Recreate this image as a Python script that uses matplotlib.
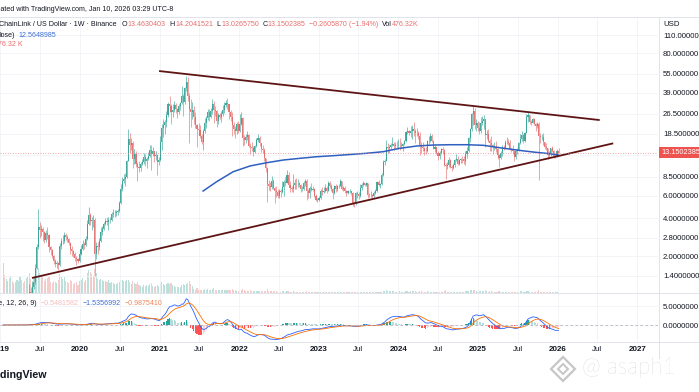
import numpy as np
import pandas as pd
import matplotlib
matplotlib.use('Agg')
import matplotlib.pyplot as plt
import matplotlib.dates as mdates
from matplotlib.transforms import Affine2D
from matplotlib.lines import Line2D
from matplotlib.patches import Rectangle, Polygon
from matplotlib.ticker import NullLocator

plt.rcParams['font.family'] = ['Liberation Sans', 'DejaVu Sans']

# LINK/USD weekly candles (Binance), one block per calendar year
first_week = '2019-01-14'
first_open = 0.42

close_2019 = [0.47, 0.44, 0.45,
              0.46, 0.45, 0.49, 0.46,
              0.46, 0.47, 0.48, 0.50,
              0.52, 0.50, 0.48, 0.46, 0.62,
              0.72, 1.05, 1.02, 1.15,
              1.25, 1.62, 2.35, 3.40,
              3.20, 3.30, 3.10, 2.70, 3.05,
              2.95, 2.35, 2.25, 2.00,
              1.85, 1.75, 1.78, 1.70, 2.40,
              2.65, 2.65, 2.95, 2.85,
              2.75, 2.55, 2.30, 2.20,
              2.10, 1.95, 1.90, 1.85, 2.10]
high_2019 = [0.62, 0.50, 0.47,
             0.48, 0.49, 0.53, 0.50,
             0.48, 0.49, 0.50, 0.53,
             0.58, 0.55, 0.51, 0.50, 0.66,
             0.80, 1.20, 1.15, 1.25,
             1.40, 1.75, 2.50, 4.75,
             3.70, 3.55, 3.40, 3.15, 3.20,
             3.40, 3.00, 2.40, 2.30,
             2.05, 1.90, 1.85, 1.82, 2.55,
             2.80, 2.95, 3.10, 3.05,
             2.95, 2.80, 2.60, 2.40,
             2.25, 2.15, 2.00, 1.95, 2.20]
low_2019 = [0.38, 0.42, 0.40,
            0.43, 0.44, 0.44, 0.44,
            0.44, 0.45, 0.46, 0.47,
            0.49, 0.48, 0.46, 0.42, 0.45,
            0.60, 0.70, 0.90, 0.98,
            1.10, 1.20, 1.58, 2.30,
            2.80, 2.90, 2.65, 2.55, 2.60,
            2.75, 2.15, 2.05, 1.95,
            1.75, 1.65, 1.62, 1.55, 1.68,
            2.30, 2.50, 2.55, 2.70,
            2.60, 2.45, 2.10, 2.00,
            1.98, 1.85, 1.72, 1.78, 1.80]
vol_2019 = [30, 18, 14,
            12, 15, 17, 12,
            10, 11, 13, 12,
            16, 13, 10, 12, 15,
            17, 20, 14, 12,
            17, 22, 26, 25,
            20, 18, 16, 12, 14,
            15, 17, 11, 10,
            12, 11, 10, 13, 19,
            17, 14, 16, 12,
            11, 10, 13, 12,
            9, 10, 11, 8, 12]

close_2020 = [2.30, 2.50, 2.45, 2.75,
              3.60, 4.20, 3.80, 3.85,
              3.90, 2.10, 2.40, 2.35, 2.65,
              3.10, 3.30, 3.60, 3.80,
              3.75, 3.90, 3.90, 4.30,
              4.40, 4.40, 4.50, 4.55, 5.30,
              6.80, 7.80, 8.20, 8.40,
              11.30, 16.80, 15.00, 15.70, 11.80,
              12.80, 10.60, 10.20, 9.90,
              10.70, 11.00, 12.20, 11.20,
              11.60, 12.40, 13.80, 12.90, 13.40,
              12.30, 12.60, 11.10, 11.40]
high_2020 = [2.45, 2.70, 2.60, 2.90,
             3.90, 4.90, 4.40, 4.10,
             4.20, 4.00, 2.60, 2.60, 2.80,
             3.40, 3.45, 3.75, 4.00,
             4.10, 4.10, 4.05, 4.45,
             4.70, 4.60, 4.65, 4.75, 5.50,
             7.40, 8.40, 8.90, 9.00,
             11.50, 20.00, 18.70, 17.00, 16.30,
             14.00, 13.50, 11.00, 11.20,
             11.10, 11.60, 13.00, 12.70,
             12.10, 13.20, 15.00, 15.00, 14.50,
             13.60, 13.50, 12.70, 12.20]
low_2020 = [2.05, 2.25, 2.30, 2.40,
            2.70, 3.50, 3.50, 3.20,
            3.40, 1.40, 1.90, 2.10, 2.25,
            2.60, 2.95, 3.20, 3.50,
            3.55, 3.20, 3.65, 3.80,
            4.10, 4.10, 4.15, 4.20, 4.50,
            5.20, 6.60, 7.60, 7.20,
            8.30, 11.20, 13.00, 13.80, 10.00,
            10.60, 10.20, 7.80, 9.20,
            9.40, 10.40, 10.70, 10.30,
            10.00, 11.40, 12.20, 9.50, 12.40,
            11.00, 11.50, 8.80, 10.50]
vol_2020 = [13, 15, 11, 13,
            20, 23, 21, 19,
            17, 24, 20, 14, 13,
            14, 13, 12, 12,
            11, 13, 10, 11,
            10, 9, 9, 10, 11,
            13, 13, 12, 12,
            13, 13, 11, 9, 12,
            10, 9, 11, 8,
            7, 6, 8, 7,
            8, 7, 9, 10, 7,
            6, 7, 8, 7]

close_2021 = [15.80, 20.70, 21.50, 22.70,
              25.80, 31.50, 30.50, 27.50,
              28.60, 31.00, 28.80, 27.20, 30.50,
              32.20, 36.80, 33.00, 42.50,
              47.00, 37.00, 29.00, 27.50, 28.50,
              25.20, 21.50, 20.30, 19.80,
              17.70, 15.90, 19.50, 22.50,
              24.50, 27.50, 25.20, 27.80, 31.50,
              28.70, 28.00, 23.50, 26.00,
              25.00, 26.50, 28.30, 31.20,
              32.50, 31.50, 27.50, 25.20, 21.50,
              20.30, 19.40, 22.00, 19.60]
high_2021 = [17.90, 22.00, 24.00, 23.80,
             28.00, 33.00, 36.90, 32.00,
             31.50, 33.50, 32.50, 29.50, 32.00,
             33.00, 44.30, 38.00, 43.50,
             52.90, 52.00, 38.50, 34.50, 33.00,
             30.50, 27.50, 22.00, 22.50,
             21.50, 18.50, 20.00, 24.50,
             25.60, 29.20, 29.00, 29.40, 35.00,
             33.50, 30.50, 28.50, 26.80,
             27.00, 28.00, 31.00, 33.00,
             34.00, 35.50, 31.80, 28.50, 27.50,
             23.00, 21.20, 23.00, 23.50]
low_2021 = [11.20, 13.80, 17.30, 18.30,
            21.00, 25.00, 27.50, 22.00,
            25.00, 27.20, 26.80, 24.80, 26.50,
            28.50, 31.50, 25.50, 32.00,
            40.00, 33.50, 15.50, 21.00, 24.00,
            22.00, 20.50, 14.60, 18.10,
            17.00, 15.40, 13.70, 18.80,
            20.50, 23.80, 23.50, 24.50, 26.50,
            22.50, 25.50, 21.00, 22.00,
            24.00, 23.00, 25.50, 26.70,
            30.00, 29.00, 24.00, 23.50, 17.60,
            18.50, 17.00, 18.50, 18.70]
vol_2021 = [10, 11, 9, 8,
            9, 10, 9, 10,
            8, 7, 6, 6, 6,
            6, 8, 9, 8,
            9, 10, 12, 9, 7,
            4, 3, 5, 3,
            3, 3, 3, 4,
            3, 4, 3, 3, 4,
            5, 3, 3, 3,
            3, 3, 3, 3,
            3, 3, 3, 3, 4,
            3, 3, 2, 2]

close_2022 = [22.00, 24.50, 17.00, 16.50, 17.40,
              18.00, 14.90, 14.60, 14.20,
              13.30, 14.80, 16.60, 17.20,
              15.50, 14.10, 13.80, 11.90,
              10.00, 7.40, 7.20, 7.00, 7.80,
              6.90, 6.50, 6.40, 6.00,
              6.60, 6.40, 7.00, 7.70,
              7.60, 8.80, 7.30, 6.90, 6.80,
              7.30, 7.60, 7.50, 7.50,
              7.30, 6.80, 6.80, 7.60, 7.90,
              6.50, 6.30, 6.90, 6.70,
              6.80, 6.00, 5.60, 5.60]
high_2022 = [26.50, 27.50, 25.00, 18.00, 18.30,
             19.50, 18.30, 15.60, 16.00,
             14.80, 15.20, 17.00, 18.50,
             17.60, 15.70, 15.00, 14.20,
             12.00, 10.20, 8.00, 7.70, 8.60,
             8.10, 7.00, 7.20, 6.80,
             6.80, 6.80, 7.90, 8.00,
             8.40, 9.50, 9.20, 7.80, 7.20,
             8.90, 8.10, 8.30, 8.10,
             7.70, 7.40, 7.10, 7.80, 8.10,
             8.20, 6.80, 7.20, 7.50,
             7.10, 6.90, 6.20, 5.80]
low_2022 = [19.00, 21.50, 14.90, 15.00, 15.60,
            16.50, 14.50, 12.90, 13.40,
            12.30, 13.00, 14.50, 15.80,
            14.80, 13.30, 13.00, 11.20,
            9.20, 5.40, 6.70, 6.50, 6.80,
            6.80, 5.30, 5.90, 5.80,
            5.80, 5.90, 6.30, 6.00,
            7.20, 7.50, 7.10, 6.40, 6.40,
            6.40, 6.80, 6.80, 7.00,
            7.00, 6.40, 6.60, 6.70, 7.20,
            5.60, 5.80, 5.80, 6.50,
            6.50, 5.90, 5.50, 5.40]
vol_2022 = [3, 3, 4, 3, 2.5,
            2.5, 2.5, 3, 2.5,
            2.5, 2.5, 2.5, 2.5,
            2, 2, 2, 2.5,
            2.5, 4, 2.5, 2, 2,
            2, 2.5, 2, 1.5,
            1.5, 1.5, 2, 2,
            1.5, 2.5, 2, 1.5, 1.5,
            2, 1.5, 1.5, 1.5,
            1.5, 1.5, 1, 1.5, 1.5,
            2.5, 1.5, 1.5, 1,
            1, 1, 1, 1]

close_2023 = [5.80, 6.60, 6.40, 6.60, 6.90,
              6.60, 7.60, 7.20, 6.80,
              6.30, 7.10, 6.80, 7.20,
              7.20, 7.80, 6.80, 6.90,
              6.60, 6.30, 6.50, 6.50, 6.30,
              5.30, 5.20, 6.30, 6.20,
              6.00, 6.90, 7.30, 7.50, 7.30,
              7.60, 6.10, 6.10, 6.10,
              6.00, 6.30, 6.60, 7.70,
              7.30, 7.40, 8.70, 11.00, 11.30,
              14.50, 14.30, 14.60, 15.20,
              15.40, 14.90, 15.10, 15.00]
high_2023 = [5.95, 6.80, 7.00, 7.00, 7.40,
             7.20, 7.90, 7.80, 7.40,
             6.90, 7.30, 7.40, 7.30,
             7.40, 8.10, 7.90, 7.20,
             7.10, 6.70, 6.70, 6.80, 6.60,
             6.40, 5.50, 6.40, 6.60,
             6.40, 7.40, 7.50, 7.80, 7.60,
             7.70, 7.60, 6.30, 6.50,
             6.20, 6.50, 6.80, 7.90,
             8.00, 7.60, 9.00, 11.50, 11.80,
             16.50, 15.50, 15.00, 15.70,
             17.30, 16.00, 16.00, 16.20]
low_2023 = [5.50, 5.70, 6.10, 6.30, 6.40,
            6.30, 6.50, 6.90, 6.60,
            5.70, 6.20, 6.40, 6.50,
            6.90, 7.10, 6.70, 6.50,
            6.30, 6.00, 6.20, 6.30, 6.10,
            5.00, 4.90, 5.10, 5.80,
            5.70, 5.90, 6.70, 7.20, 7.10,
            7.20, 5.80, 5.90, 5.90,
            5.80, 5.80, 6.20, 6.40,
            7.10, 6.90, 7.30, 8.60, 10.40,
            11.20, 13.00, 13.10, 14.00,
            14.80, 13.80, 14.20, 14.40]
vol_2023 = [1, 1.5, 1.5, 1, 1.5,
            1, 1.5, 1, 1,
            1.5, 1.5, 1, 1,
            1, 1.5, 1, 1,
            1, 1, 1, 1, 1,
            1.5, 1.5, 1.5, 1,
            1, 1.5, 1, 1, 1,
            1, 1.5, 1, 1,
            1, 1, 1, 1.5,
            1.5, 1, 1.5, 2.5, 2,
            3, 2, 2, 2,
            2, 2, 1.5, 1.5]

close_2024 = [15.20, 15.00, 14.80, 15.30, 16.10,
              19.00, 19.50, 18.90, 19.60,
              20.30, 19.50, 18.80, 18.90,
              17.80, 15.00, 14.50, 14.30, 13.50,
              13.40, 16.10, 16.10, 17.70,
              16.30, 14.10, 14.50, 13.10,
              12.40, 13.10, 14.00, 13.80, 10.50,
              10.30, 10.40, 11.50, 10.20,
              10.00, 10.50, 11.50, 11.80, 10.70,
              11.40, 11.70, 11.60, 11.20,
              12.80, 13.50, 17.00, 20.00,
              26.50, 27.80, 21.50, 22.50, 20.70]
high_2024 = [16.80, 17.00, 15.80, 15.60, 16.60,
             19.50, 20.80, 19.80, 21.20,
             21.80, 22.80, 20.00, 20.50,
             19.50, 19.00, 15.90, 15.80, 14.50,
             14.60, 16.40, 17.80, 18.80,
             18.50, 16.50, 15.10, 14.60,
             13.40, 13.60, 14.40, 14.50, 13.90,
             10.80, 11.00, 12.20, 11.70,
             10.50, 10.80, 11.80, 12.80, 12.40,
             11.60, 12.00, 12.30, 12.40,
             13.60, 14.60, 17.50, 20.50,
             27.00, 30.90, 29.50, 24.00, 23.30]
low_2024 = [13.90, 13.80, 14.20, 13.40, 15.00,
            15.80, 18.30, 18.00, 17.50,
            16.80, 17.80, 15.70, 17.80,
            16.80, 12.50, 13.00, 13.60, 12.60,
            12.90, 13.20, 15.40, 15.80,
            16.00, 13.90, 13.30, 12.80,
            11.40, 11.80, 12.90, 12.80, 10.30,
            8.10, 9.80, 10.10, 9.90,
            9.40, 9.80, 10.20, 11.30, 10.40,
            10.40, 10.90, 10.90, 10.70,
            10.50, 12.00, 13.30, 15.80,
            19.50, 21.50, 20.00, 19.60, 19.50]
vol_2024 = [2, 2.5, 1.5, 1.5, 1.5,
            2.5, 2, 1.5, 2,
            2.5, 2.5, 2, 1.5,
            1.5, 2.5, 2, 1.5, 1.5,
            1.5, 2, 1.5, 1.5,
            1.5, 1.5, 1.5, 1.5,
            1.5, 1.5, 1.5, 1, 2,
            3, 1.5, 1.5, 1.5,
            1.5, 1, 1.5, 1.5, 1.5,
            1, 1, 1, 1,
            2, 2, 2.5, 3,
            3, 3, 3, 2, 1.5]

close_2025 = [19.50, 22.50, 23.20, 24.00,
              18.20, 18.50, 16.30, 15.60,
              15.00, 14.50, 14.60, 14.00, 12.50,
              11.90, 13.00, 14.30, 14.00,
              15.80, 16.00, 15.60, 14.00,
              13.80, 13.50, 12.10, 13.40, 13.60,
              15.60, 16.90, 18.00, 16.30,
              18.70, 25.00, 25.80, 23.00,
              22.50, 24.00, 22.20, 21.30, 22.00,
              17.80, 17.30, 17.50, 15.80,
              14.60, 14.20, 12.50, 12.80,
              14.20, 13.60, 12.40, 12.30, 13.4630403]
high_2025 = [22.70, 25.00, 25.50, 25.80,
             24.00, 19.80, 20.00, 16.80,
             17.90, 15.30, 15.90, 16.20, 14.30,
             12.80, 13.40, 15.20, 15.00,
             16.60, 17.40, 16.90, 16.40,
             14.40, 15.20, 13.60, 13.90, 14.30,
             16.00, 18.50, 19.40, 18.30,
             19.00, 26.30, 27.90, 26.20,
             23.60, 24.80, 24.50, 22.60, 22.70,
             23.00, 18.80, 18.50, 18.70,
             15.90, 15.70, 14.30, 13.60,
             14.40, 14.90, 13.70, 12.80, 14.00]
low_2025 = [18.40, 18.80, 21.50, 20.00,
            14.50, 16.80, 16.00, 13.50,
            13.60, 12.80, 13.80, 13.30, 11.80,
            10.20, 11.60, 12.40, 13.70,
            13.90, 15.30, 15.00, 13.70,
            13.30, 12.70, 11.30, 11.80, 12.90,
            13.40, 15.40, 16.30, 15.50,
            15.80, 18.60, 22.70, 22.20,
            21.50, 22.30, 21.60, 19.50, 20.60,
            8.00, 15.60, 16.50, 15.00,
            13.90, 13.80, 11.80, 12.00,
            12.30, 13.20, 12.00, 11.90, 12.20]
vol_2025 = [2, 2.5, 2, 2,
            3, 2, 1.5, 2,
            2, 1.5, 1.5, 1.5, 1.5,
            2.5, 1.5, 1.5, 1,
            1.5, 1.5, 1.5, 1.5,
            1, 1.5, 1.5, 1.5, 1,
            1.5, 2, 2, 1.5,
            1.5, 2.5, 2.5, 1.5,
            1.5, 1.5, 1.5, 1.5, 1,
            3, 1.5, 1.5, 1.5,
            1.5, 1, 1.5, 1,
            1, 1, 1, 1, 1]

close_2026 = [13.1502385]
high_2026 = [14.2041521]
low_2026 = [13.0265750]
vol_2026 = [0.476]

# moving average (close)
ma_dates = ['2021-07-19', '2021-09-19', '2021-12-04', '2022-02-19', '2022-05-07',
            '2022-07-22', '2022-10-07', '2022-12-23', '2023-03-08', '2023-05-24',
            '2023-08-08', '2023-10-23', '2024-01-08', '2024-03-25', '2024-06-09',
            '2024-08-25', '2024-11-10', '2025-01-25', '2025-04-11', '2025-06-27',
            '2025-09-11', '2025-11-27', '2026-01-05']
ma_values = [6.54, 7.74, 9.28, 10.30, 10.93, 11.48, 11.84, 12.19, 12.41, 12.69,
             12.97, 13.35, 14.20, 14.80, 15.07, 15.15, 15.15, 14.99, 14.35, 13.76,
             13.27, 12.87, 12.56]

# drawn triangle
upper_dates = ['2020-12-29', '2026-07-13']
upper_values = [57.7, 23.7]
lower_dates = ['2019-05-26', '2026-09-13']
lower_values = [1.35, 15.54]

price_ticks = [1.4, 2.0, 2.8, 4.0, 6.0, 8.5, 12.5, 18.5, 26.5, 39.0, 55.0, 80.0, 110.0]
macd_ticks = [0.0, 5.0]
last_price = 13.1502385

UP, DOWN = '#32a295', '#e46a6a'
TXT = '#131722'
VAL_RED = '#eb6d6d'
GRID = '#f0f2f6'
SEP = '#e0e3eb'
FS = 5.6     # price scale
FS_H = 5.15  # legend rows

years = [2019, 2020, 2021, 2022, 2023, 2024, 2025, 2026]
blocks = {y: (globals()['close_%d' % y], globals()['high_%d' % y],
              globals()['low_%d' % y], globals()['vol_%d' % y]) for y in years}
for y, b in blocks.items():
    if len(set(map(len, b))) != 1:
        raise ValueError('length mismatch in %d: %s' % (y, list(map(len, b))))

close = np.array(sum([blocks[y][0] for y in years], []), dtype=float)
high = np.array(sum([blocks[y][1] for y in years], []), dtype=float)
low = np.array(sum([blocks[y][2] for y in years], []), dtype=float)
vol = np.array(sum([blocks[y][3] for y in years], []), dtype=float)
opn = np.concatenate([[first_open], close[:-1]])
high = np.maximum(high, np.maximum(opn, close))
low = np.minimum(low, np.minimum(opn, close))

dates = pd.date_range(first_week, periods=len(close), freq='7D')
x = mdates.date2num(dates)
up = close >= opn
col = np.where(up, UP, DOWN)

s = pd.Series(close)
macd = s.ewm(span=12, adjust=False).mean() - s.ewm(span=26, adjust=False).mean()
signal = macd.ewm(span=9, adjust=False).mean()
hist = macd - signal
prev = hist.shift(1).fillna(0)
hist_col = np.where(hist >= 0, np.where(hist >= prev, '#26a69a', '#b2dfdb'),
                    np.where(hist < prev, '#ff5252', '#ffcdd2'))

W, H = 699, 392
fig = plt.figure(figsize=(W / 100, H / 100), dpi=100)
fig.patch.set_facecolor('white')
px = Affine2D().scale(1 / W, -1 / H).translate(0, 1) + fig.transFigure

ax = fig.add_axes([0, 1 - 293 / H, 658 / W, 276 / H])
ax_vol = ax.twinx()
ax_macd = fig.add_axes([0, 1 - 342 / H, 658 / W, 49 / H], sharex=ax)
ax_vol.set_zorder(0)
ax.set_zorder(1)
ax.patch.set_visible(False)

x_left = mdates.date2num(pd.Timestamp('2019-01-01')) - 1.84
x_right = x_left + 658 / 79.6 * 365.25
ticks = []
tick_labels = []
for yr in range(2019, 2028):
    for m in (1, 7):
        t = mdates.date2num(pd.Timestamp(yr, m, 1))
        if t < x_right:
            ticks.append(t)
            tick_labels.append(str(yr) if m == 1 else 'Jul')

# volume
ax_vol.bar(x, vol, width=5, color=col, alpha=0.33, linewidth=0)
ax_vol.set_ylim(0, vol.max() * 9.2)
ax_vol.set_yticks([])

# candles
ax.vlines(x, low, high, colors=col, lw=0.5, alpha=0.85)
ax.bar(x, np.abs(close - opn), bottom=np.minimum(opn, close), width=5,
       color=col, linewidth=0, alpha=0.9)
ax.plot(pd.to_datetime(ma_dates), ma_values, color='#2f5fc0', lw=1.1)
ax.plot(pd.to_datetime(upper_dates), upper_values, color='#5e1414', lw=1.3,
        solid_capstyle='butt')
ax.plot(pd.to_datetime(lower_dates), lower_values, color='#5e1414', lw=1.3,
        solid_capstyle='butt')
ax.axhline(last_price, color='#e88888', lw=0.6, ls=(0, (1, 2)))

ax.set_yscale('log')
ax.set_ylim(1.028, 153.8)
ax.set_xlim(x_left, x_right)
ax.yaxis.set_minor_locator(NullLocator())
ax.set_yticks(price_ticks)
# the 12.5 level sits under the last-price tag, so its label stays blank
ax.set_yticklabels(['' if v == 12.5 else ('%.6f' % v if v >= 10 else '%.7f' % v)
                    for v in price_ticks])
ax.yaxis.tick_right()
ax.tick_params(axis='y', length=0, pad=3.5, labelsize=FS, labelcolor=TXT)
ax.set_xticks(ticks)
ax.tick_params(axis='x', length=0, labelbottom=False)
ax.grid(True, color=GRID, lw=0.6)
ax.set_axisbelow(True)

# macd pane
ax_macd.bar(x, hist, width=5, color=hist_col, linewidth=0)
ax_macd.plot(x, macd, color='#2962ff', lw=0.6)
ax_macd.plot(x, signal, color='#ff6d00', lw=0.6)
ax_macd.axhline(0, color='#b2b5be', lw=0.6, ls=(0, (3, 3)))
ax_macd.set_ylim(-4.47, 8.42)
ax_macd.set_yticks(macd_ticks)
ax_macd.set_yticklabels(['%.7f' % v for v in macd_ticks])
ax_macd.yaxis.tick_right()
ax_macd.tick_params(axis='y', length=0, pad=3.5, labelsize=FS, labelcolor=TXT)
ax_macd.set_xticks(ticks)
ax_macd.set_xticklabels(tick_labels)
ax_macd.tick_params(axis='x', length=0, pad=3, labelsize=5.8, labelcolor=TXT)
for lab in ax_macd.get_xticklabels():
    if lab.get_text() != 'Jul':
        lab.set_fontweight('bold')
ax_macd.grid(True, color=GRID, lw=0.6)
ax_macd.set_axisbelow(True)

for a in (ax, ax_vol, ax_macd):
    for sp in a.spines.values():
        sp.set_visible(False)

# pane borders
for y0 in (17, 293, 342):
    fig.add_artist(Line2D([0, W], [y0, y0], transform=px, color=SEP, lw=0.7))
fig.add_artist(Line2D([658.5, 658.5], [17, 358], transform=px, color=SEP, lw=0.7))

# last price tag
fig.add_artist(Rectangle((658.5, 147.5), 41, 10.5, transform=px,
                         facecolor='#ef5350', edgecolor='none', zorder=5))
fig.text(661, 153, '13.1502385', transform=px, color='white', fontsize=5.3,
         va='center', zorder=6)
fig.text(663, 25, 'USD', transform=px, color=TXT, fontsize=FS, va='center')

renderer = fig.canvas.get_renderer()


def write_row(y, parts, x0=0, first_ha='left'):
    xc = x0
    for i, (txt, color, gap) in enumerate(parts):
        t = fig.text(xc, y, txt, transform=px, color=color, fontsize=FS_H,
                     va='center', ha=first_ha if i == 0 else 'left')
        xc = t.get_window_extent(renderer).x1 + gap


write_row(9.5, [('Created with TradingView.com, Jan 10, 2026 03:29 UTC-8', TXT, 0)],
          x0=173, first_ha='right')
write_row(25, [('ChainLink / US Dollar \u00b7 1W \u00b7 Binance', TXT, 5),
               ('O', TXT, 0.5), ('13.4630403', VAL_RED, 3.5),
               ('H', TXT, 0.5), ('14.2041521', VAL_RED, 3.5),
               ('L', TXT, 0.5), ('13.0265750', VAL_RED, 3.5),
               ('C', TXT, 0.5), ('13.1502385', VAL_RED, 3),
               ('\u22120.2605870 (\u22121.94%)', VAL_RED, 3.5),
               ('Vol', TXT, 0.5), ('476.32K', VAL_RED, 0)], x0=-1)
write_row(35.5, [('lose)', TXT, 3), ('12.5648985', '#3d6fd6', 0)])
write_row(45, [('476.32 K', VAL_RED, 0)], x0=23, first_ha='right')
write_row(304, [('MACD (close, 12, 26, 9)', TXT, 4),
                ('\u22120.5481582', '#f7bcbc', 4),
                ('\u22121.5356992', '#3d6fd6', 4),
                ('\u22120.9875410', '#f0875a', 0)], x0=37, first_ha='right')

# footer
fig.text(47, 375, 'TradingView', transform=px, color=TXT, fontsize=7.7,
         fontweight='bold', ha='right', va='center')
wm = '#c6c6c6'
fig.add_artist(Polygon([(563, 357), (575, 369), (563, 381), (551, 369)], closed=True,
                       transform=px, fill=False, edgecolor=wm, lw=1.6))
fig.add_artist(Polygon([(563, 364), (568, 369), (563, 374), (558, 369)], closed=True,
                       transform=px, fill=False, edgecolor=wm, lw=1.4))
fig.text(582, 368, '@ asaph1', transform=px, color=wm, fontsize=16.3,
         family=['Lato', 'DejaVu Sans'], fontweight='light', va='center')

fig.savefig('out.png', dpi=100)
